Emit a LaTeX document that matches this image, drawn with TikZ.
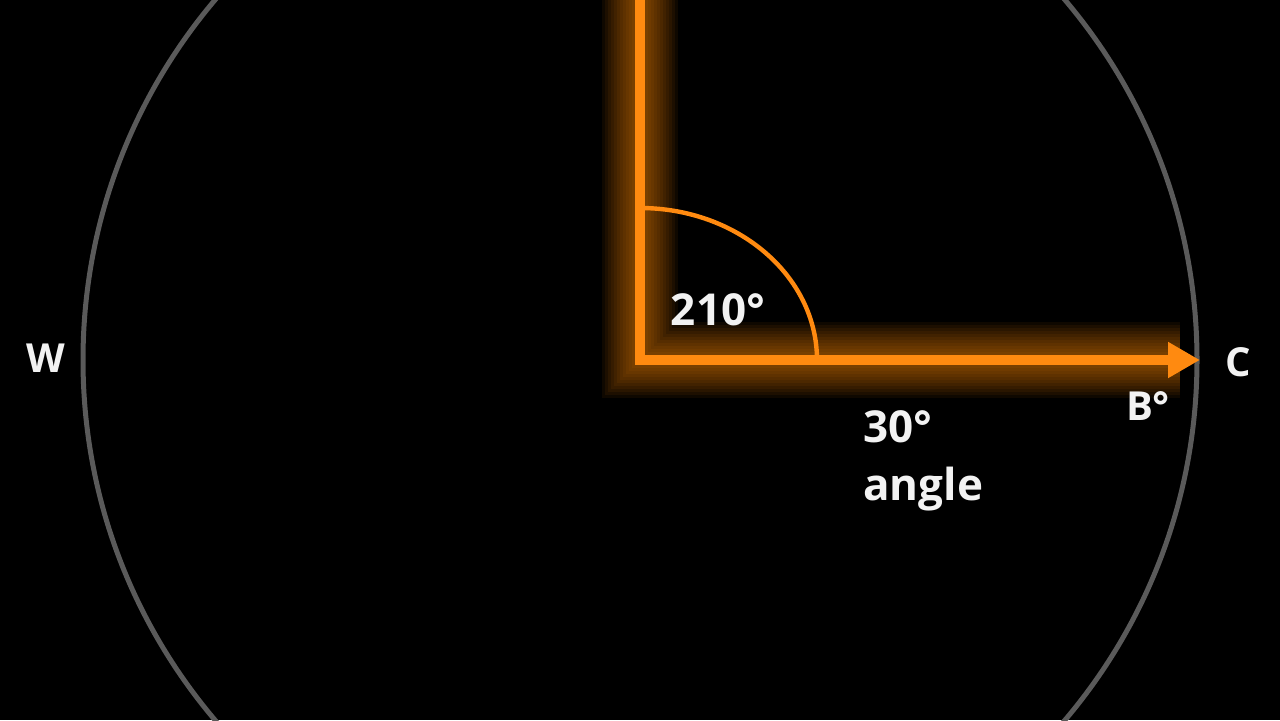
\documentclass[tikz,border=0pt]{standalone}
\usepackage{fontspec}
\setmainfont{Open Sans}
\usetikzlibrary{arrows.meta}
\definecolor{rimgray}{HTML}{5A5A5A}
\definecolor{glowor}{HTML}{FF8A10}
\definecolor{labelwhite}{HTML}{F2F2F2}

\tikzset{
  rim/.style={draw=rimgray, line width=2.5pt},
  ray/.style={draw=glowor, line width=5pt},
  halo/.style={draw=glowor, line width=#1, opacity=0.06},
  mark arc/.style={draw=glowor, line width=2.2pt},
  lbl/.style={text=labelwhite, font=\fontsize{20}{24}\selectfont\bfseries, inner sep=0pt},
  biglbl/.style={text=labelwhite, font=\fontsize{22}{29}\selectfont\bfseries, inner sep=0pt, align=left}
}

\begin{document}
\begin{tikzpicture}[x=0.5pt, y=-0.5pt]
  \fill[black] (0,0) rectangle (1280,720);
  \useasboundingbox (0,0) rectangle (1280,720);
  \clip (0,0) rectangle (1280,720);

  % compass circle
  \coordinate (center) at (640,360);
  \draw[rim] (center) circle[radius=557];

  % the two rays
  \coordinate (top) at (640,-10);
  \coordinate (origin) at (640,360);
  \coordinate (tip) at (1200,360);
  \coordinate (glowend) at (1180,360);
  \foreach \w in {38,35,...,8}
    \draw[halo=\w pt] (top) -- (origin) -- (glowend);
  \draw[ray, -{Triangle[length=16pt,width=17pt]}] (top) -- (origin) -- (tip);

  % angle mark
  \draw[mark arc] (origin) ++(177,0) arc[start angle=0, end angle=-90, x radius=177, y radius=152];

  % labels
  \node[lbl] (west) at (46,358) {W};
  \node[lbl] (east) at (1238,362) {C};
  \node[lbl] (bdeg) at (1148,406) {B°};
  \node[biglbl] (inner) at (718,310) {210°};
  \node[biglbl, anchor=north west] (outer) at (863,410) {30°\\angle};
\end{tikzpicture}
\end{document}
